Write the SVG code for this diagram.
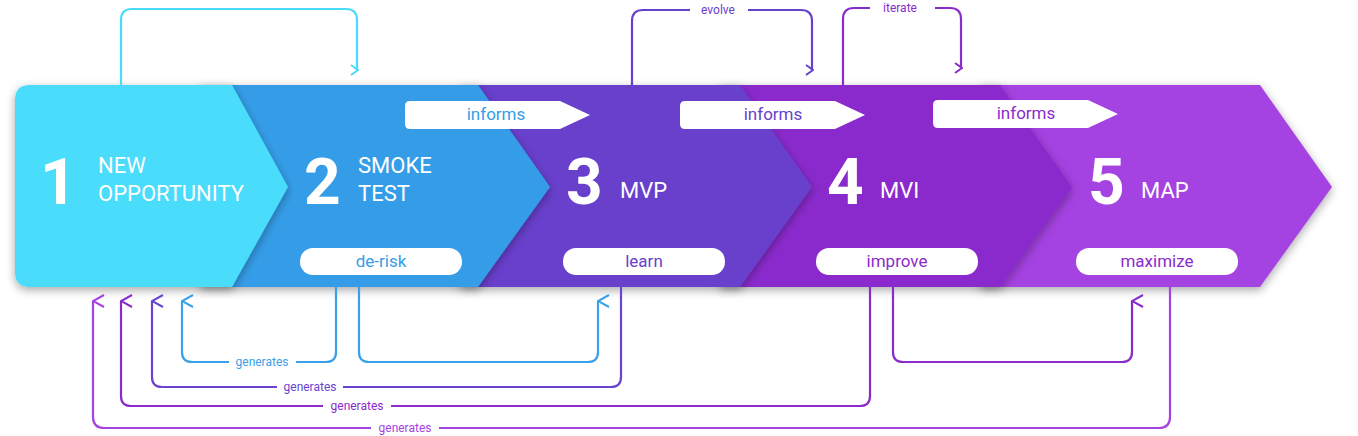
<svg xmlns="http://www.w3.org/2000/svg" width="1358" height="436" viewBox="0 0 1358 436">
<defs>
<filter id="sh" x="-10%" y="-20%" width="120%" height="140%"><feDropShadow dx="0" dy="3" stdDeviation="5" flood-color="#000" flood-opacity="0.35"/></filter>
<marker id="ah" viewBox="0 0 12 12" refX="6" refY="2" markerWidth="12" markerHeight="12" markerUnits="userSpaceOnUse" orient="auto-start-reverse"><path d="M1,8 L6,1 L11,8" fill="none" stroke="context-stroke" stroke-width="2"/></marker>
<marker id="au" viewBox="0 0 14 14" refX="7" refY="1" markerWidth="14" markerHeight="14" markerUnits="userSpaceOnUse" orient="auto"><path d="M1,12 L7,1 L13,12" fill="none" stroke="context-stroke" stroke-width="2"/></marker>
</defs>
<style>
.c{fill:none;stroke-width:2.2}
.num{font-family:Roboto,"Noto Sans",sans-serif;font-weight:bold;font-size:64px;fill:#fff}
.lab{font-family:Roboto,"Noto Sans",sans-serif;font-size:22px;fill:#fff}
.pill{fill:#fff}
.pt{font-family:Roboto,"Noto Sans",sans-serif;font-size:17px;text-anchor:middle}
.sm{font-family:Roboto,"Noto Sans",sans-serif;font-size:12px;text-anchor:middle}
</style>
<g id="stages">
<g id="s5" filter="url(#sh)"><polygon points="980,85 1260,85 1332,187 1260,287 980,287" fill="#a542e2"/></g>
<g id="s4" filter="url(#sh)"><polygon points="720,85 1000,85 1072,187 1000,287 720,287" fill="#8a2bcc"/></g>
<g id="s3" filter="url(#sh)"><polygon points="460,85 740,85 812,187 740,287 460,287" fill="#6741cc"/></g>
<g id="s2" filter="url(#sh)"><polygon points="200,85 478,85 550,187 478,287 200,287" fill="#369de8"/></g>
<g id="s1" filter="url(#sh)"><path d="M30,85 L232,85 L288,187 L232,287 L30,287 Q15,287 15,272 L15,100 Q15,85 30,85 Z" fill="#48dcfb"/></g>
</g>
<g id="texts">
<text class="num" x="40" y="204">1</text><text class="lab" x="98" y="173">NEW</text><text class="lab" x="98" y="201">OPPORTUNITY</text>
<text class="num" x="304" y="204">2</text><text class="lab" x="358" y="173">SMOKE</text><text class="lab" x="358" y="201">TEST</text>
<text class="num" x="566" y="204">3</text><text class="lab" x="620" y="198">MVP</text>
<text class="num" x="827" y="204">4</text><text class="lab" x="880" y="198">MVI</text>
<text class="num" x="1088" y="204">5</text><text class="lab" x="1141" y="198">MAP</text>
</g>
<g id="informs">
<path class="pill" d="M410,101 L560,101 L590,115 L560,129 L410,129 Q405,129 405,124 L405,106 Q405,101 410,101Z"/><text class="pt" x="496" y="120" fill="#369de8">informs</text>
<path class="pill" d="M685,101 L835,101 L865,115 L835,129 L685,129 Q680,129 680,124 L680,106 Q680,101 685,101Z"/><text class="pt" x="773" y="120" fill="#6741cc">informs</text>
<path class="pill" d="M938,100 L1088,100 L1118,114 L1088,128 L938,128 Q933,128 933,123 L933,105 Q933,100 938,100Z"/><text class="pt" x="1026" y="119" fill="#8a2bcc">informs</text>
</g>
<g id="pills">
<rect class="pill" x="300" y="248" width="162" height="27" rx="13"/><text class="pt" x="381" y="267" fill="#369de8">de-risk</text>
<rect class="pill" x="563" y="248" width="162" height="27" rx="13"/><text class="pt" x="644" y="267" fill="#6741cc">learn</text>
<rect class="pill" x="816" y="248" width="162" height="27" rx="13"/><text class="pt" x="897" y="267" fill="#8a2bcc">improve</text>
<rect class="pill" x="1076" y="248" width="162" height="27" rx="13"/><text class="pt" x="1157" y="267" fill="#8a2bcc">maximize</text>
</g>
<g id="connectors">
<path class="c" stroke="#48dcfb" d="M121,85 V20 Q121,9 132,9 H346 Q357,9 357,20 V70" marker-end="url(#ah)"/>
<path class="c" stroke="#6741cc" d="M632,85 V21 Q632,10 643,10 H690 M748,10 H801 Q812,10 812,21 V70" marker-end="url(#ah)"/>
<text class="sm" x="718" y="14" fill="#6741cc">evolve</text>
<path class="c" stroke="#8a2bcc" d="M843,85 V19 Q843,8 854,8 H870 M935,8 H950 Q961,8 961,19 V68" marker-end="url(#ah)"/>
<text class="sm" x="900" y="12" fill="#8a2bcc">iterate</text>

<path class="c" stroke="#3aa0ea" d="M336,287 V352 Q336,362 326,362 H296 M229,362 H192 Q182,362 182,352 V301" marker-end="url(#au)"/>
<text class="sm" x="262" y="366" fill="#3aa0ea">generates</text>
<path class="c" stroke="#3aa0ea" d="M359,287 V352 Q359,362 369,362 H588 Q598,362 598,352 V301" marker-end="url(#au)"/>
<path class="c" stroke="#6a44d0" d="M621,287 V377 Q621,387 611,387 H343 M277,387 H162 Q152,387 152,377 V301" marker-end="url(#au)"/>
<text class="sm" x="310" y="391" fill="#6a44d0">generates</text>
<path class="c" stroke="#8a2bcc" d="M870,287 V396 Q870,406 860,406 H391 M323,406 H131 Q121,406 121,396 V301" marker-end="url(#au)"/>
<text class="sm" x="357" y="410" fill="#8a2bcc">generates</text>
<path class="c" stroke="#8a2bcc" d="M893,287 V352 Q893,362 903,362 H1122 Q1132,362 1132,352 V301" marker-end="url(#au)"/>
<path class="c" stroke="#a542e2" d="M1170,287 V417 Q1170,428 1159,428 H439 M371,428 H104 Q93,428 93,417 V301" marker-end="url(#au)"/>
<text class="sm" x="405" y="432" fill="#a542e2">generates</text>
</g>
</svg>
